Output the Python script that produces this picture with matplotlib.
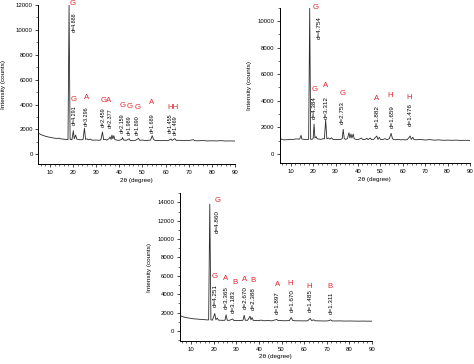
import matplotlib
matplotlib.use("Agg")
import matplotlib.pyplot as plt
from matplotlib.ticker import MultipleLocator

plt.rcParams['font.family'] = ['Liberation Sans', 'DejaVu Sans']

# ---------------- data ----------------
p1_2theta = [5, 6, 7, 8, 9, 10, 11, 12, 13, 14, 14.3, 15, 16, 17, 17.8, 18.26, 18.7, 19.5, 20.1, 20.5,
             21.1, 21.6, 22.5, 23.5, 24.3, 24.9, 25.4, 26, 26.6, 27.5, 28, 29, 30, 31, 32, 32.7, 33.2, 34,
             34.5, 35.5, 36.0, 36.4, 36.8, 37.2, 37.6, 38.1, 39, 40, 41, 41.4, 41.8, 43, 44.3, 44.7, 46, 47,
             48.3, 48.8, 50, 51, 52, 53.5, 54.2, 54.8, 55.5, 57, 58, 59.5, 61, 62.3, 62.8, 64.0, 64.6, 66,
             68, 70, 72, 72.5, 74, 76, 78, 80, 82, 84, 86, 88, 90]
p1_counts = [1700, 1600, 1520, 1460, 1410, 1370, 1330, 1300, 1280, 1300, 1250, 1240, 1220, 1200, 1190, 12000,
             1200, 1180, 1900, 1250, 1550, 1230, 1180, 1170, 1190, 2100, 1200, 1250, 1170, 1230, 1150, 1140,
             1150, 1130, 1160, 1800, 1180, 1200, 1150, 1250, 1400, 1200, 1550, 1250, 1500, 1180, 1140, 1130,
             1200, 1350, 1150, 1130, 1250, 1120, 1120, 1130, 1280, 1130, 1150, 1110, 1120, 1150, 1500, 1200,
             1110, 1120, 1100, 1110, 1100, 1230, 1120, 1260, 1120, 1130, 1100, 1110, 1180, 1100, 1090, 1110,
             1080, 1090, 1080, 1100, 1070, 1080, 1070]

p2_2theta = [5, 5.5, 6, 7, 8, 9, 10, 11, 12, 13, 14, 14.6, 15, 16, 17, 18, 18.47, 18.9, 19.5, 20.0, 20.4,
             20.8, 21.3, 21.8, 22.5, 23.5, 24.5, 25.0, 25.6, 26.1, 26.8, 27.5, 28.2, 28.8, 30, 31, 32, 33,
             33.4, 33.9, 34.5, 35.3, 36.0, 36.4, 36.9, 37.3, 37.9, 38.3, 39, 40, 41, 41.5, 42, 43, 44, 44.5,
             45.5, 46, 47, 48.4, 48.9, 49.5, 50, 51, 52, 53, 54, 54.8, 55.4, 56, 57, 58, 59, 60, 61, 62, 63.3,
             63.8, 64.5, 65, 66, 68, 70, 72, 74, 76, 78, 80, 82, 84, 86, 88, 90]
p2_counts = [1250, 1150, 1100, 1060, 1070, 1080, 1100, 1090, 1120, 1130, 1120, 1400, 1120, 1100, 1090, 1100,
             11000, 1100, 1110, 1150, 2250, 1200, 1300, 1150, 1120, 1100, 1150, 1130, 2550, 1150, 1200, 1120,
             1220, 1100, 1080, 1100, 1080, 1150, 1850, 1150, 1100, 1150, 1600, 1200, 1500, 1200, 1500, 1150,
             1100, 1080, 1150, 1200, 1100, 1080, 1180, 1080, 1200, 1080, 1100, 1350, 1100, 1250, 1100, 1080,
             1150, 1080, 1150, 1550, 1150, 1080, 1070, 1100, 1060, 1080, 1060, 1080, 1350, 1100, 1250, 1080,
             1070, 1090, 1050, 1080, 1040, 1060, 1030, 1040, 1030, 1040, 1020, 1030, 1020]

p3_2theta = [5, 6, 7, 8, 9, 10, 11, 12, 13, 14, 15, 16, 17, 17.8, 18.3, 18.8, 19.5, 20.5, 21.0, 21.6, 22.1,
             23, 24, 25.0, 25.5, 26, 27, 28.4, 28.9, 30, 31, 32, 33.0, 33.5, 34.0, 35, 36.1, 36.5, 37.0, 37.5,
             38.5, 40, 41, 42, 43, 44, 45, 46, 47.9, 48.5, 50, 51, 52, 53.5, 54.3, 54.9, 56, 58, 60, 61.5,
             62.7, 63.3, 64.3, 65, 67, 69, 70.5, 71.8, 72.4, 74, 76, 78, 80, 82, 84, 86, 88, 90]
p3_counts = [1700, 1580, 1500, 1440, 1400, 1360, 1320, 1300, 1280, 1260, 1250, 1220, 1200, 1200, 13800, 1200,
             1180, 1900, 1220, 1400, 1180, 1160, 1150, 1160, 1750, 1160, 1150, 1300, 1140, 1130, 1120, 1140,
             1160, 1700, 1160, 1150, 1600, 1200, 1450, 1150, 1130, 1120, 1180, 1110, 1110, 1150, 1100, 1110,
             1250, 1120, 1130, 1100, 1110, 1130, 1450, 1150, 1100, 1100, 1090, 1100, 1350, 1130, 1200, 1100,
             1090, 1080, 1090, 1200, 1090, 1080, 1090, 1070, 1080, 1070, 1060, 1070, 1060, 1060]

# phase letters (G, A, H, B) and d-spacing labels
p1_phase = ['G', 'G', 'A', 'GA', 'G', 'G', 'G', 'A', 'HH']
p1_phase_x = [19.7, 20.4, 25.75, 34.25, 41.2, 44.3, 48.1, 54.1, 63.1]
p1_phase_y = [12150, 4440, 4550, 4360, 3930, 3820, 3770, 4200, 3800]
p1_d = ['d=4.888', 'd=4.291', 'd=3.296', 'd=2.459', 'd=2.377', 'd=2.159', 'd=1.989', 'd=1.890',
        'd=1.689', 'd=1.455', 'd=1.469']
p1_d_x = [20.3, 20.4, 25.6, 33.0, 36.0, 41.3, 44.2, 47.9, 54.3, 61.9, 64.2]
p1_d_y = [9800, 2350, 2270, 2220, 2090, 1680, 1550, 1550, 1680, 1680, 1550]

p2_phase = ['G', 'G', 'A', 'G', 'A', 'H', 'H']
p2_phase_x = [21.3, 20.6, 25.5, 33.05, 48.1, 54.6, 63.0]
p2_phase_y = [11050, 4850, 5150, 4550, 4150, 4400, 4250]
p2_d = ['d=4.754', 'd=4.384', 'd=3.312', 'd=2.753', 'd=1.882', 'd=1.659', 'd=1.476']
p2_d_x = [22.8, 20.6, 25.8, 33.2, 48.4, 55.1, 63.3]
p2_d_y = [8680, 2600, 2650, 2250, 1950, 1950, 2100]

p3_phase = ['G', 'G', 'A', 'B', 'A', 'B', 'A', 'H', 'H', 'B']
p3_phase_x = [21.7, 20.6, 25.2, 29.2, 33.5, 37.3, 48.2, 54.0, 62.2, 71.5]
p3_phase_y = [14200, 5930, 5710, 5290, 5640, 5460, 5100, 5180, 4820, 4820]
p3_d = ['d=4.860', 'd=4.251', 'd=3.365', 'd=3.183', 'd=2.670', 'd=2.388', 'd=1.897', 'd=1.670',
        'd=1.485', 'd=1.311']
p3_d_x = [21.8, 20.9, 25.4, 28.7, 33.8, 37.4, 48.2, 54.6, 62.7, 72.1]
p3_d_y = [10640, 2600, 2430, 1900, 2430, 2250, 1890, 2070, 2070, 1890]

x_ticks = [10, 20, 30, 40, 50, 60, 70, 80, 90]

# ---------------- figure ----------------
fig = plt.figure(figsize=(4.74, 3.64), dpi=100)
RED = '#e3262f'
LINE = '#2a2a2a'

panels = [
    dict(rect=[0.081, 0.5486, 0.4148, 0.4376], x=p1_2theta, y=p1_counts, ylim=(-800, 12000),
         ph=p1_phase, phx=p1_phase_x, phy=p1_phase_y, d=p1_d, dx=p1_d_x, dy=p1_d_y, dfs=3.9,
         ylab_x=-0.165),
    dict(rect=[0.5897, 0.5514, 0.4019, 0.4275], x=p2_2theta, y=p2_counts, ylim=(-700, 11000),
         ph=p2_phase, phx=p2_phase_x, phy=p2_phase_y, d=p2_d, dx=p2_d_x, dy=p2_d_y, dfs=4.5,
         ylab_x=-0.145),
    dict(rect=[0.3791, 0.0632, 0.4057, 0.406], x=p3_2theta, y=p3_counts, ylim=(-1100, 15000),
         ph=p3_phase, phx=p3_phase_x, phy=p3_phase_y, d=p3_d, dx=p3_d_x, dy=p3_d_y, dfs=4.5,
         ylab_x=-0.145),
]

for p in panels:
    ax = fig.add_axes(p['rect'])
    ax.plot(p['x'], p['y'], color=LINE, lw=0.6)
    ax.set_xlim(5, 90)
    ax.set_ylim(*p['ylim'])
    ax.spines['top'].set_visible(False)
    ax.spines['right'].set_visible(False)
    for s in ('left', 'bottom'):
        ax.spines[s].set_linewidth(0.7)
    ax.set_xticks(x_ticks)
    ax.xaxis.set_minor_locator(MultipleLocator(2))
    ax.yaxis.set_major_locator(MultipleLocator(2000))
    ax.yaxis.set_minor_locator(MultipleLocator(1000))
    ax.tick_params(which='major', direction='out', length=2.5, width=0.5, labelsize=4.3, pad=1.5)
    ax.tick_params(which='minor', direction='out', length=1.3, width=0.4)
    ax.set_xlabel('2θ (degree)', fontsize=4.6, labelpad=2)
    ax.set_ylabel('Intensity (counts)', fontsize=4.6)
    ax.yaxis.set_label_coords(p['ylab_x'], 0.5)
    for t, xx, yy in zip(p['ph'], p['phx'], p['phy']):
        ax.text(xx, yy, t, color=RED, fontsize=5.6, ha='center', va='center', clip_on=False)
    for t, xx, yy in zip(p['d'], p['dx'], p['dy']):
        ax.text(xx, yy, t, color='black', fontsize=p['dfs'], rotation=90, ha='center', va='bottom',
                clip_on=False)

fig.savefig('out.png', dpi=100)
